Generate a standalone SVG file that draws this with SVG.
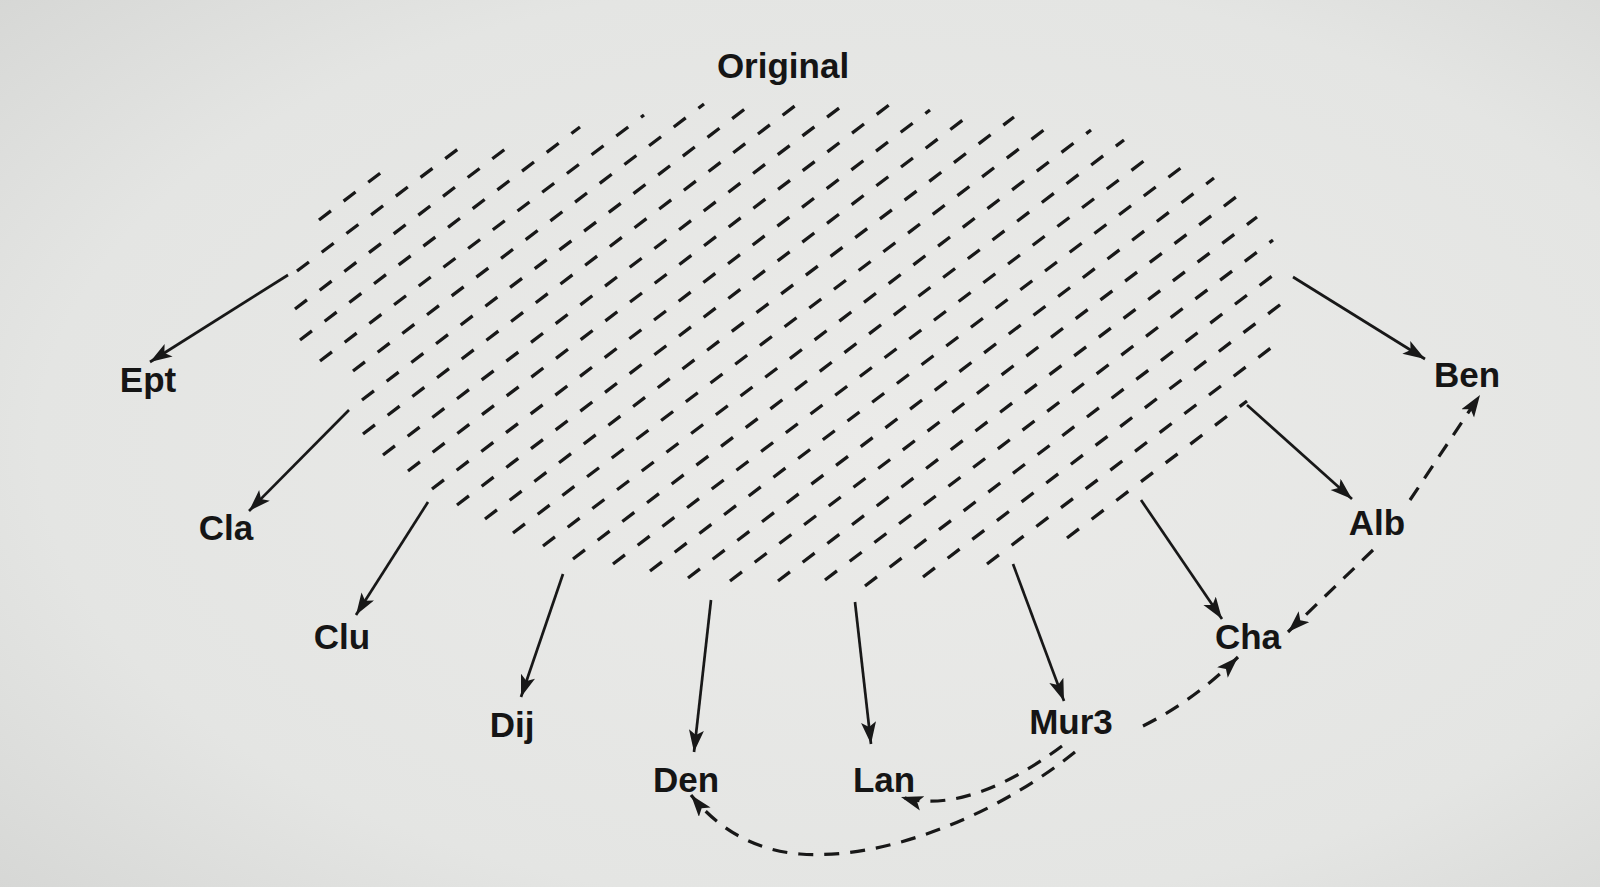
<svg xmlns="http://www.w3.org/2000/svg" width="1600" height="887" viewBox="0 0 1600 887">
<style>
.lbl{font-family:"Liberation Sans",Arial,sans-serif;font-weight:bold;font-size:35px;fill:#151515;text-anchor:middle}
.h{stroke:#181818;stroke-width:3.3;stroke-dasharray:15 16;fill:none}
.arr{stroke:#181818;stroke-width:2.7;fill:none;marker-end:url(#ah)}
.darr{stroke:#181818;stroke-width:3.2;stroke-dasharray:15 11;fill:none;marker-end:url(#ah)}
</style>
<defs>
<radialGradient id="paper" cx="0.55" cy="0.5" r="0.75">
<stop offset="0" stop-color="#ebebe9"/>
<stop offset="0.7" stop-color="#e4e5e3"/>
<stop offset="1" stop-color="#d6d7d5"/>
</radialGradient>
<marker id="ah" markerUnits="userSpaceOnUse" markerWidth="26" markerHeight="16" refX="22" refY="7.5" orient="auto">
<path d="M0,0 L22,7.5 L0,15 L5,7.5 z" fill="#181818"/>
</marker>
</defs>
<rect x="0" y="0" width="1600" height="887" fill="url(#paper)"/>

<g id="hatch">
<line class="h" x1="319" y1="220" x2="383" y2="171"/>
<line class="h" x1="297" y1="271" x2="458" y2="149"/>
<line class="h" x1="295" y1="309" x2="517" y2="140"/>
<line class="h" x1="300" y1="340" x2="580" y2="127"/>
<line class="h" x1="320" y1="361" x2="644" y2="115"/>
<line class="h" x1="353" y1="371" x2="704" y2="104"/>
<line class="h" x1="362" y1="400" x2="754" y2="102"/>
<line class="h" x1="363" y1="434" x2="800" y2="102"/>
<line class="h" x1="383" y1="455" x2="847" y2="102"/>
<line class="h" x1="408" y1="471" x2="889" y2="105"/>
<line class="h" x1="432" y1="489" x2="930" y2="110"/>
<line class="h" x1="457" y1="505" x2="972" y2="113"/>
<line class="h" x1="485" y1="519" x2="1014" y2="117"/>
<line class="h" x1="513" y1="533" x2="1053" y2="123"/>
<line class="h" x1="543" y1="546" x2="1091" y2="130"/>
<line class="h" x1="573" y1="559" x2="1124" y2="140"/>
<line class="h" x1="613" y1="564" x2="1149" y2="157"/>
<line class="h" x1="650" y1="571" x2="1182" y2="167"/>
<line class="h" x1="688" y1="578" x2="1214" y2="178"/>
<line class="h" x1="730" y1="581" x2="1236" y2="197"/>
<line class="h" x1="778" y1="581" x2="1257" y2="217"/>
<line class="h" x1="825" y1="580" x2="1273" y2="240"/>
<line class="h" x1="865" y1="586" x2="1280" y2="270"/>
<line class="h" x1="923" y1="577" x2="1285" y2="301"/>
<line class="h" x1="987" y1="564" x2="1280" y2="341"/>
<line class="h" x1="1067" y1="538" x2="1247" y2="401"/>
</g>

<g id="connectors">
<line class="arr" x1="288" y1="275" x2="150" y2="362"/>
<line class="arr" x1="349" y1="410" x2="249" y2="511"/>
<line class="arr" x1="428" y1="502" x2="356" y2="615"/>
<line class="arr" x1="563" y1="574" x2="521" y2="697"/>
<line class="arr" x1="711" y1="600" x2="694" y2="752"/>
<line class="arr" x1="855" y1="602" x2="871" y2="744"/>
<line class="arr" x1="1013" y1="564" x2="1064" y2="701"/>
<line class="arr" x1="1141" y1="500" x2="1222" y2="619"/>
<line class="arr" x1="1247" y1="405" x2="1352" y2="499"/>
<line class="arr" x1="1293" y1="277" x2="1425" y2="359"/>
<path class="darr" d="M1410,500 L1480,395"/>
<path class="darr" d="M1373,550 L1288,632"/>
<path class="darr" d="M1143,726 Q1195,700 1238,657"/>
<path class="darr" d="M1062,746 C1010,785 950,812 901,797"/>
<path class="darr" d="M1075,752 C990,820 880,860 800,854 C750,850 715,825 691,795"/>
</g>

<g id="node-original"><text class="lbl" x="783" y="78">Original</text></g>
<g id="node-ept"><text class="lbl" x="148" y="392">Ept</text></g>
<g id="node-cla"><text class="lbl" x="226" y="540">Cla</text></g>
<g id="node-clu"><text class="lbl" x="342" y="649">Clu</text></g>
<g id="node-dij"><text class="lbl" x="512" y="737">Dij</text></g>
<g id="node-den"><text class="lbl" x="686" y="792">Den</text></g>
<g id="node-lan"><text class="lbl" x="884" y="792">Lan</text></g>
<g id="node-mur3"><text class="lbl" x="1071" y="734">Mur3</text></g>
<g id="node-cha"><text class="lbl" x="1248" y="649">Cha</text></g>
<g id="node-alb"><text class="lbl" x="1377" y="535">Alb</text></g>
<g id="node-ben"><text class="lbl" x="1467" y="387">Ben</text></g>
</svg>
